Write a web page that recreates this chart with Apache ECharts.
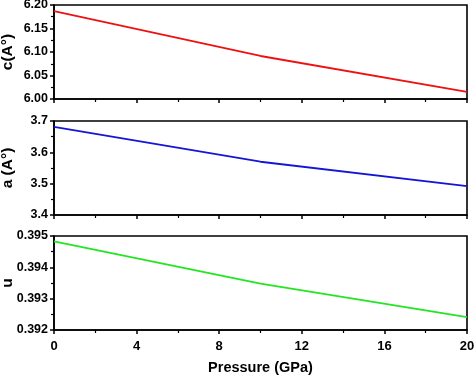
<!DOCTYPE html>
<html>
<head>
<meta charset="utf-8">
<script src="https://cdn.jsdelivr.net/npm/echarts@6/dist/echarts.min.js"></script>
<style>
  html, body { margin: 0; padding: 0; background: #fff; }
  #main { width: 474px; height: 376px; }
</style>
</head>
<body>
<div id="main"></div>
<script>
// pressure (GPa)
var pressure = [0, 10, 20];
// lattice parameters
var cVals = [6.187, 6.0915, 6.015];
var aVals = [3.681, 3.570, 3.492];
var uVals = [0.39483, 0.39348, 0.39241];

var myChart = echarts.init(document.getElementById('main'));

var font = 'Liberation Sans, Arial, sans-serif';

function xAxisFor(idx, showLabel) {
    return {
        type: 'value', gridIndex: idx,
        min: 0, max: 20, interval: 4,
        axisLine: { onZero: false, lineStyle: { color: '#000', width: 1.6 } },
        axisTick: { show: true, inside: false, length: 4, lineStyle: { color: '#000', width: 1.5 } },
        minorTick: { show: true, splitNumber: 2, length: 3, lineStyle: { color: '#000', width: 1.2 } },
        splitLine: { show: false },
        axisLabel: {
            show: showLabel, color: '#000', fontFamily: font, fontWeight: 'bold', fontSize: 13, margin: 10
        },
        name: showLabel ? 'Pressure (GPa)' : '',
        nameLocation: 'middle', nameGap: 30,
        nameTextStyle: { color: '#000', fontFamily: font, fontWeight: 'bold', fontSize: 14.5 }
    };
}

function yAxisFor(idx, name, min, max, interval, digits) {
    return {
        type: 'value', gridIndex: idx,
        min: min, max: max, interval: interval,
        axisLine: { show: true, lineStyle: { color: '#000', width: 1.6 } },
        axisTick: { show: true, inside: false, length: 4, lineStyle: { color: '#000', width: 1.5 } },
        minorTick: { show: true, splitNumber: 2, length: 3, lineStyle: { color: '#000', width: 1.2 } },
        splitLine: { show: false },
        axisLabel: {
            color: '#000', fontFamily: font, fontWeight: 'bold', fontSize: 12.5, margin: 6,
            formatter: function (v) { return v.toFixed(digits); }
        },
        name: name, nameLocation: 'middle', nameGap: 38, nameRotate: 90,
        nameMoveOverlap: false,
        nameTextStyle: { color: '#000', fontFamily: font, fontWeight: 'bold', fontSize: 15.5 }
    };
}

function lineFor(idx, data, color) {
    var pts = [];
    for (var i = 0; i < pressure.length; i++) {
        pts.push([pressure[i], data[i]]);
    }
    return {
        type: 'line', xAxisIndex: idx, yAxisIndex: idx,
        data: pts, showSymbol: false, symbol: 'none',
        lineStyle: { color: color, width: 1.8 },
        animation: false
    };
}

var gridBase = {
    left: 54, right: 7, height: 94, show: true,
    containLabel: false, outerBoundsMode: 'none',
    borderColor: '#000', borderWidth: 1.6, backgroundColor: 'transparent'
};

option = {
    animation: false,
    grid: [
        Object.assign({}, gridBase, { top: 5 }),
        Object.assign({}, gridBase, { top: 121 }),
        Object.assign({}, gridBase, { top: 236 })
    ],
    xAxis: [xAxisFor(0, false), xAxisFor(1, false), xAxisFor(2, true)],
    yAxis: [
        yAxisFor(0, 'c(A°)', 6.00, 6.20, 0.05, 2),
        yAxisFor(1, 'a (A°)', 3.4, 3.7, 0.1, 1),
        yAxisFor(2, 'u', 0.392, 0.395, 0.001, 3)
    ],
    series: [
        lineFor(0, cVals, '#ee1111'),
        lineFor(1, aVals, '#1515d5'),
        lineFor(2, uVals, '#22e622')
    ]
};

myChart.setOption(option);
</script>
</body>
</html>
